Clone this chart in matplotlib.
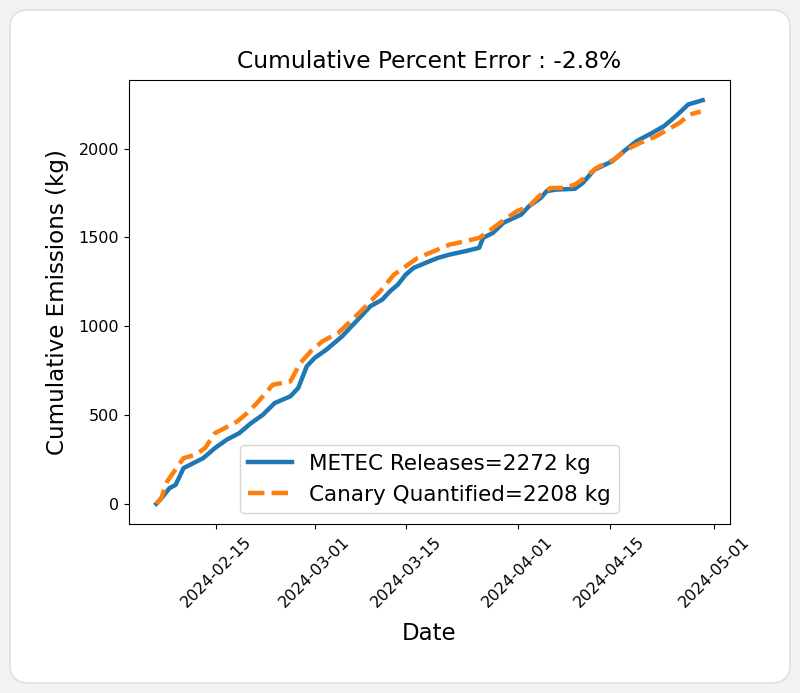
import matplotlib
matplotlib.use("Agg")
import matplotlib.pyplot as plt
import matplotlib.dates as mdates
from matplotlib.patches import FancyBboxPatch
import numpy as np
import pandas as pd

# days after 2024-02-15 and cumulative kg
metec_days = [-9.15, -8.4, -7.15, -6.2, -5.0, -3.5, -2.0, -0.2, 1.6, 3.5, 5.3, 7.1, 8.9, 11.3, 12.5,
              13.8, 15.0, 16.8, 19.2, 21.6, 23.5, 25.3, 26.5, 27.7, 28.9, 30.1, 32.5, 33.8, 35.6,
              38.0, 40.1, 40.7, 42.2, 43.8, 46.5, 47.7, 49.5, 50.4, 51.9, 54.7, 55.9, 57.7, 60.4,
              62.2, 64.1, 66.5, 68.3, 70.1, 72.0, 74.2]
metec_vals = [0, 30, 88, 107, 201, 229, 257, 314, 361, 398, 454, 501, 567, 605, 652,
              774, 821, 868, 943, 1037, 1112, 1149, 1196, 1234, 1290, 1328, 1365, 1384, 1403,
              1422, 1441, 1497, 1525, 1582, 1628, 1675, 1722, 1760, 1769, 1773, 1806, 1881, 1928,
              1985, 2041, 2088, 2126, 2182, 2248, 2272]

canary_days = [-9.15, -8.4, -7.5, -5.9, -5.0, -3.2, -1.7, -0.2, 1.3, 3.2, 4.7, 6.2, 8.6, 11.3, 12.8,
               14.4, 16.2, 18.6, 21.0, 22.8, 25.0, 27.1, 28.9, 30.7, 33.2, 35.6, 38.0, 40.1, 41.6,
               44.0, 45.9, 47.7, 49.5, 51.0, 53.1, 54.7, 56.2, 58.0, 60.7, 62.6, 64.7, 67.1, 68.9,
               70.7, 72.2, 73.9]
canary_vals = [0, 32, 126, 210, 257, 276, 314, 398, 426, 464, 511, 567, 670, 689, 792,
               858, 915, 962, 1046, 1112, 1196, 1290, 1337, 1384, 1422, 1459, 1478, 1497, 1535,
               1601, 1648, 1675, 1741, 1778, 1778, 1797, 1835, 1891, 1938, 1994, 2032, 2069, 2107,
               2145, 2191, 2208]

base = pd.Timestamp("2024-02-15")
metec_dates = [base + pd.Timedelta(days=d) for d in metec_days]
canary_dates = [base + pd.Timedelta(days=d) for d in canary_days]

W, H = 800, 693
fig = plt.figure(figsize=(W / 100, H / 100), dpi=100)
fig.patch.set_facecolor("#f2f2f2")
card = FancyBboxPatch((10 / W, 10 / H), 780 / W, 673 / H,
                      boxstyle="round,pad=0,rounding_size=0.025",
                      transform=fig.transFigure, facecolor="white",
                      edgecolor="#dcdcdc", linewidth=1.0, zorder=-10)
fig.patches.append(card)

ax = fig.add_axes([129 / W, (H - 524) / H, (730 - 129) / W, (524 - 80) / H])
ax.plot(metec_dates, metec_vals, color="#1f77b4", linewidth=3.2,
        label="METEC Releases=2272 kg")
ax.plot(canary_dates, canary_vals, color="#ff7f0e", linewidth=3.2, linestyle="--",
        label="Canary Quantified=2208 kg")

ax.set_title("Cumulative Percent Error : -2.8%", fontsize=16.8, pad=9)
ax.set_xlabel("Date", fontsize=16.5, labelpad=9)
ax.set_ylabel("Cumulative Emissions (kg)", fontsize=16.6, labelpad=7)
ax.set_yticks([0, 500, 1000, 1500, 2000])
ax.xaxis.set_major_locator(mdates.DayLocator(bymonthday=[1, 15]))
ax.xaxis.set_major_formatter(mdates.DateFormatter("%Y-%m-%d"))
for lab in ax.get_xticklabels():
    lab.set_rotation(45)
ax.tick_params(labelsize=11.5)
ax.legend(loc="lower center", fontsize=15.5)

fig.savefig("out.png", dpi=100, facecolor=fig.get_facecolor())
